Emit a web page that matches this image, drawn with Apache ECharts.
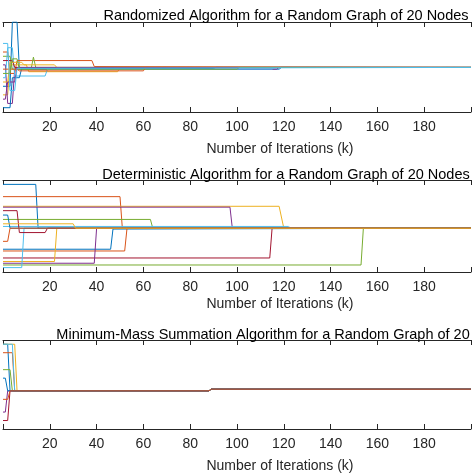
<!DOCTYPE html>
<html>
<head>
<meta charset="utf-8">
<script src="https://cdn.jsdelivr.net/npm/echarts@6/dist/echarts.min.js"></script>
<style>html,body{margin:0;padding:0;background:#fff}#c{width:474px;height:474px}</style>
</head>
<body>
<div id="c"></div>
<script>
// subplot titles
const titles = [
  'Randomized Algorithm for a Random Graph of 20 Nodes',
  'Deterministic Algorithm for a Random Graph of 20 Nodes',
  'Minimum-Mass Summation Algorithm for a Random Graph of 20 Nodes'
];
const xLabel = 'Number of Iterations (k)';
const colors = ['#0072BD', '#D95319', '#EDB120', '#7E2F8E', '#77AC30', '#4DBEEE', '#A2142F'];

// node trajectories [k, value], one list per node
const randomized = [
  [[0, 0.3], [3, 0.3], [4, 1.05], [6, 1.05], [7, 0.5], [118, 0.5], [119, 0.52], [200, 0.52]],
  [[0, 0.7], [2, 0.7], [3, 0.45], [5, 0.45], [6, 0.6], [38, 0.6], [39, 0.53], [200, 0.52]],
  [[0, 0.2], [2, 0.2], [3, 0.55], [10, 0.55], [11, 0.47], [49, 0.47], [50, 0.52], [200, 0.52]],
  [[0, 0.55], [1, 0.55], [2, 0.1], [4, 0.1], [5, 0.5], [117, 0.5], [118, 0.52], [200, 0.52]],
  [[0, 0.65], [3, 0.65], [4, 0.5], [12, 0.5], [13, 0.64], [14, 0.52], [200, 0.52]],
  [[0, 0.4], [1, 0.4], [2, 0.75], [4, 0.75], [5, 0.42], [18, 0.42], [19, 0.5], [115, 0.5], [116, 0.52], [200, 0.52]],
  [[0, 0.6], [4, 0.6], [5, 0.52], [200, 0.52]],
  [[0, 0.05], [3, 0.05], [4, 0.4], [7, 0.4], [8, 0.51], [90, 0.51], [91, 0.52], [200, 0.52]],
  [[0, 0.5], [6, 0.5], [7, 0.48], [60, 0.48], [61, 0.52], [200, 0.52]],
  [[0, 0.35], [2, 0.35], [3, 0.58], [8, 0.58], [9, 0.55], [22, 0.55], [23, 0.52], [200, 0.52]],
  [[0, 0.15], [1, 0.15], [2, 0.35], [5, 0.35], [6, 0.52], [200, 0.52]],
  [[0, 0.45], [3, 0.45], [4, 0.62], [6, 0.62], [7, 0.5], [100, 0.5], [101, 0.52], [200, 0.52]],
  [[0, 0.8], [2, 0.8], [3, 0.25], [5, 0.25], [6, 0.51], [200, 0.52]]
];
const deterministic = [
  [[0, 1], [14, 1], [15, 0.5], [200, 0.5]],
  [[0, 0.86], [50, 0.86], [51, 0.5], [200, 0.5]],
  [[0, 0.75], [118, 0.75], [120, 0.5], [200, 0.5]],
  [[0, 0.74], [97, 0.74], [98, 0.5], [200, 0.5]],
  [[0, 0.6], [63, 0.6], [64, 0.5], [200, 0.5]],
  [[0, 0.52], [122, 0.52], [123, 0.5], [200, 0.5]],
  [[0, 0.16], [114, 0.16], [115, 0.5], [200, 0.5]],
  [[0, 0.26], [46, 0.26], [47, 0.49], [200, 0.5]],
  [[0, 0.24], [52, 0.24], [53, 0.5], [200, 0.5]],
  [[0, 0.12], [22, 0.12], [23, 0.5], [200, 0.5]],
  [[0, 0.1], [39, 0.1], [40, 0.5], [200, 0.5]],
  [[0, 0.08], [153, 0.08], [154, 0.5], [200, 0.5]],
  [[0, 0.05], [8, 0.05], [9, 0.5], [200, 0.5]],
  [[0, 0.7], [6, 0.7], [7, 0.45], [18, 0.45], [19, 0.5], [200, 0.5]],
  [[0, 0.65], [2, 0.65], [3, 0.5], [200, 0.5]],
  [[0, 0.35], [2, 0.35], [3, 0.5], [200, 0.5]],
  [[0, 0.55], [30, 0.55], [31, 0.5], [200, 0.5]]
];
const minMass = [
  [[0, 1], [2, 1], [3, 0.45], [88, 0.45], [89, 0.47], [200, 0.47]],
  [[0, 0.9], [4, 0.9], [5, 0.45], [88, 0.45], [89, 0.47], [200, 0.47]],
  [[0, 1], [5, 1], [6, 0.45], [88, 0.45], [89, 0.47], [200, 0.47]],
  [[0, 0.2], [1, 0.2], [2, 0.45], [88, 0.45], [89, 0.47], [200, 0.47]],
  [[0, 0.7], [3, 0.7], [4, 0.45], [88, 0.45], [89, 0.47], [200, 0.47]],
  [[0, 1], [4, 1], [5, 0.45], [88, 0.45], [89, 0.47], [200, 0.47]],
  [[0, 0.1], [2, 0.1], [3, 0.45], [88, 0.45], [89, 0.47], [200, 0.47]],
  [[0, 0.6], [1, 0.6], [2, 0.45], [88, 0.45], [89, 0.47], [200, 0.47]],
  [[0, 0.35], [2, 0.35], [3, 0.45], [88, 0.45], [89, 0.47], [200, 0.47]]
];
const panels = [randomized, deterministic, minMass];
const tickLabels = [20, 40, 60, 80, 100, 120, 140, 160, 180];

const gridTops = [22, 180, 340];
const gridHeights = [90, 92, 89];
const titleTops = [3, 162, 322];
const xLabelTops = [137, 292, 454];

const chart = echarts.init(document.getElementById('c'));
const ink = '#262626';
const font = 'Liberation Sans';
const grid = [], xAxis = [], yAxis = [], series = [], title = [];
panels.forEach((lines, i) => {
  grid.push({ left: -3, right: -33, top: gridTops[i], height: gridHeights[i] });
  title.push({
    text: titles[i], left: 281, top: titleTops[i], textAlign: 'center',
    textStyle: { fontFamily: font, fontSize: 14.5, fontWeight: 'normal', color: '#000' }
  });
  title.push({
    text: xLabel, left: 275, top: xLabelTops[i], textAlign: 'center',
    textStyle: { fontFamily: font, fontSize: 14, fontWeight: 'normal', color: ink }
  });
  const ax = {
    gridIndex: i, type: 'value', min: 0, max: 200, interval: 20,
    axisLine: { lineStyle: { color: ink, width: 1 } },
    axisTick: { inside: true, length: 5, lineStyle: { color: ink } },
    splitLine: { show: false }
  };
  xAxis.push(Object.assign({}, ax, {
    position: 'bottom',
    axisLabel: {
      fontFamily: font, fontSize: 14, color: ink, margin: 8,
      formatter: v => (tickLabels.includes(v) ? String(v) : '')
    }
  }));
  xAxis.push(Object.assign({}, ax, { position: 'top', axisLabel: { show: false } }));
  yAxis.push({
    gridIndex: i, type: 'value', min: 0, max: 1.05, show: true,
    axisLine: { show: false }, axisTick: { show: false }, axisLabel: { show: false }, splitLine: { show: false }
  });
  lines.forEach((pts, j) => {
    series.push({
      type: 'line', xAxisIndex: i * 2, yAxisIndex: i, data: pts, showSymbol: false,
      lineStyle: { width: 1, color: colors[j % colors.length] }, clip: true, silent: true
    });
  });
});
chart.setOption({ animation: false, title, grid, xAxis, yAxis, series });
</script>
</body>
</html>
